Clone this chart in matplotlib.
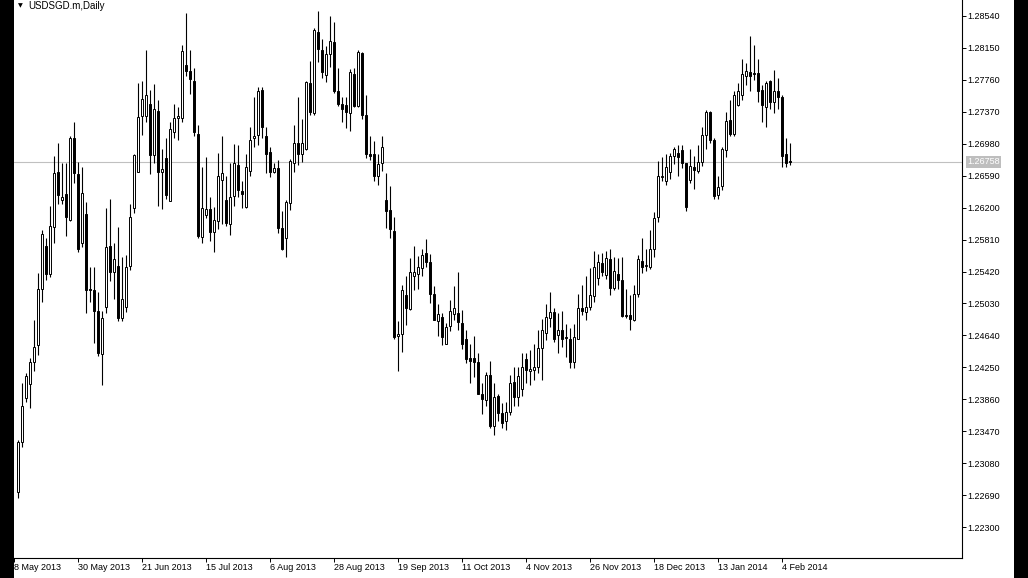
import matplotlib
matplotlib.use('Agg')
import matplotlib.pyplot as plt
from matplotlib.patches import Rectangle
import matplotlib.transforms as mtrans

plt.rcParams['font.family'] = ['Liberation Sans', 'DejaVu Sans']

# ---- Daily USDSGD.m candles (bars 1..194, bar 0 = 8 May 2013) ----
opens = [
    1.2273, 1.2334, 1.2388, 1.2405, 1.2431, 1.2452, 1.2521, 1.2573, 1.2539, 1.2596,
    1.2663, 1.2629, 1.2637, 1.2605, 1.2705, 1.2661, 1.2577, 1.2612, 1.2521, 1.2520,
    1.2494, 1.2441, 1.2499, 1.2573, 1.2541, 1.2549, 1.2485, 1.2499, 1.2549, 1.2619,
    1.2664, 1.2732, 1.2732, 1.2746, 1.2684, 1.2738, 1.2663, 1.2681, 1.2628, 1.2712,
    1.2729, 1.2729, 1.2794, 1.2787, 1.2775, 1.2710, 1.2584, 1.2611, 1.2618, 1.2590,
    1.2604, 1.2654, 1.2629, 1.2600, 1.2634, 1.2672, 1.2640, 1.2621, 1.2665, 1.2705,
    1.2709, 1.2764, 1.2707, 1.2688, 1.2663, 1.2668, 1.2595, 1.2583, 1.2626, 1.2675,
    1.2699, 1.2686, 1.2692, 1.2772, 1.2735, 1.2834, 1.2812, 1.2782, 1.2808, 1.2822,
    1.2763, 1.2747, 1.2745, 1.2736, 1.2783, 1.2744, 1.2809, 1.2733, 1.2686, 1.2685,
    1.2659, 1.2674, 1.2629, 1.2617, 1.2592, 1.2463, 1.2466, 1.2513, 1.2496, 1.2537,
    1.2539, 1.2546, 1.2565, 1.2553, 1.2515, 1.2482, 1.2486, 1.2454, 1.2475, 1.2490,
    1.2491, 1.2479, 1.2460, 1.2436, 1.2436, 1.2431, 1.2393, 1.2385, 1.2416, 1.2353,
    1.2390, 1.2369, 1.2360, 1.2371, 1.2407, 1.2389, 1.2398, 1.2435, 1.2421, 1.2422,
    1.2426, 1.2449, 1.2467, 1.2485, 1.2493, 1.2465, 1.2471, 1.2462, 1.2460, 1.2432,
    1.2460, 1.2497, 1.2492, 1.2499, 1.2512, 1.2534, 1.2552, 1.2538, 1.2557, 1.2522,
    1.2539, 1.2532, 1.2489, 1.2489, 1.2483, 1.2514, 1.2555, 1.2549, 1.2547, 1.2570,
    1.2609, 1.2657, 1.2653, 1.2664, 1.2683, 1.2687, 1.2690, 1.2674, 1.2654, 1.2670,
    1.2665, 1.2676, 1.2709, 1.2737, 1.2703, 1.2635, 1.2646, 1.2690, 1.2727, 1.2710,
    1.2745, 1.2758, 1.2781, 1.2785, 1.2784, 1.2784, 1.2764, 1.2743, 1.2774, 1.2749,
    1.2762, 1.2755, 1.2685, 1.2677,
]
highs = [
    1.2336, 1.2406, 1.2418, 1.2436, 1.2483, 1.2540, 1.2593, 1.2583, 1.2622, 1.2683,
    1.2699, 1.2675, 1.2674, 1.2707, 1.2725, 1.2676, 1.2670, 1.2627, 1.2548, 1.2548,
    1.2517, 1.2494, 1.2620, 1.2631, 1.2577, 1.2596, 1.2560, 1.2562, 1.2625, 1.2686,
    1.2772, 1.2774, 1.2812, 1.2764, 1.2771, 1.2751, 1.2692, 1.2705, 1.2725, 1.2746,
    1.2743, 1.2819, 1.2858, 1.2812, 1.2790, 1.2721, 1.2670, 1.2682, 1.2633, 1.2621,
    1.2687, 1.2708, 1.2658, 1.2674, 1.2698, 1.2697, 1.2652, 1.2686, 1.2718, 1.2755,
    1.2767, 1.2767, 1.2719, 1.2694, 1.2674, 1.2678, 1.2616, 1.2629, 1.2679, 1.2721,
    1.2755, 1.2728, 1.2775, 1.2799, 1.2839, 1.2860, 1.2826, 1.2817, 1.2854, 1.2847,
    1.2790, 1.2755, 1.2755, 1.2789, 1.2790, 1.2813, 1.2810, 1.2758, 1.2708, 1.2701,
    1.2686, 1.2707, 1.2662, 1.2646, 1.2608, 1.2481, 1.2526, 1.2536, 1.2558, 1.2573,
    1.2561, 1.2569, 1.2582, 1.2563, 1.2524, 1.2502, 1.2491, 1.2479, 1.2507, 1.2524,
    1.2541, 1.2495, 1.2471, 1.2454, 1.2463, 1.2443, 1.2406, 1.2419, 1.2433, 1.2406,
    1.2393, 1.2382, 1.2383, 1.2416, 1.2425, 1.2426, 1.2442, 1.2442, 1.2446, 1.2454,
    1.2470, 1.2484, 1.2502, 1.2517, 1.2498, 1.2491, 1.2494, 1.2478, 1.2473, 1.2478,
    1.2515, 1.2526, 1.2536, 1.2546, 1.2567, 1.2563, 1.2565, 1.2567, 1.2569, 1.2560,
    1.2558, 1.2560, 1.2521, 1.2513, 1.2526, 1.2562, 1.2583, 1.2570, 1.2593, 1.2615,
    1.2677, 1.2682, 1.2685, 1.2687, 1.2694, 1.2697, 1.2697, 1.2675, 1.2692, 1.2683,
    1.2697, 1.2718, 1.2739, 1.2738, 1.2705, 1.2659, 1.2694, 1.2737, 1.2751, 1.2762,
    1.2772, 1.2801, 1.2796, 1.2830, 1.2819, 1.2801, 1.2770, 1.2774, 1.2776, 1.2788,
    1.2778, 1.2758, 1.2705, 1.2699,
]
lows = [
    1.2265, 1.2328, 1.2383, 1.2375, 1.2420, 1.2440, 1.2505, 1.2532, 1.2535, 1.2577,
    1.2624, 1.2624, 1.2585, 1.2604, 1.2650, 1.2566, 1.2572, 1.2491, 1.2505, 1.2455,
    1.2439, 1.2404, 1.2491, 1.2530, 1.2509, 1.2481, 1.2482, 1.2493, 1.2544, 1.2614,
    1.2663, 1.2709, 1.2725, 1.2661, 1.2674, 1.2622, 1.2618, 1.2631, 1.2628, 1.2705,
    1.2703, 1.2725, 1.2781, 1.2759, 1.2707, 1.2583, 1.2577, 1.2607, 1.2579, 1.2566,
    1.2594, 1.2600, 1.2597, 1.2587, 1.2622, 1.2633, 1.2619, 1.2619, 1.2659, 1.2694,
    1.2696, 1.2705, 1.2662, 1.2657, 1.2662, 1.2589, 1.2568, 1.2560, 1.2617, 1.2664,
    1.2672, 1.2676, 1.2690, 1.2733, 1.2733, 1.2798, 1.2778, 1.2773, 1.2792, 1.2760,
    1.2744, 1.2725, 1.2717, 1.2714, 1.2743, 1.2743, 1.2728, 1.2680, 1.2678, 1.2652,
    1.2648, 1.2665, 1.2595, 1.2583, 1.2460, 1.2420, 1.2444, 1.2477, 1.2495, 1.2520,
    1.2521, 1.2536, 1.2548, 1.2504, 1.2483, 1.2463, 1.2452, 1.2454, 1.2469, 1.2483,
    1.2471, 1.2447, 1.2430, 1.2406, 1.2413, 1.2393, 1.2368, 1.2378, 1.2351, 1.2342,
    1.2360, 1.2351, 1.2349, 1.2367, 1.2378, 1.2378, 1.2390, 1.2406, 1.2404, 1.2410,
    1.2418, 1.2410, 1.2458, 1.2474, 1.2456, 1.2443, 1.2450, 1.2438, 1.2424, 1.2424,
    1.2459, 1.2489, 1.2483, 1.2495, 1.2505, 1.2526, 1.2536, 1.2533, 1.2513, 1.2519,
    1.2521, 1.2487, 1.2485, 1.2470, 1.2481, 1.2511, 1.2540, 1.2543, 1.2545, 1.2560,
    1.2602, 1.2652, 1.2648, 1.2655, 1.2673, 1.2659, 1.2668, 1.2616, 1.2650, 1.2643,
    1.2662, 1.2671, 1.2692, 1.2699, 1.2630, 1.2630, 1.2642, 1.2682, 1.2707, 1.2707,
    1.2744, 1.2751, 1.2770, 1.2762, 1.2776, 1.2749, 1.2724, 1.2718, 1.2740, 1.2735,
    1.2741, 1.2670, 1.2670, 1.2672,
]
closes = [
    1.2334, 1.2378, 1.2414, 1.2432, 1.2450, 1.2521, 1.2588, 1.2539, 1.2598, 1.2662,
    1.2635, 1.2633, 1.2609, 1.2705, 1.2662, 1.2570, 1.2638, 1.2519, 1.2519, 1.2494,
    1.2442, 1.2485, 1.2572, 1.2541, 1.2557, 1.2485, 1.2509, 1.2548, 1.2609, 1.2684,
    1.2731, 1.2753, 1.2758, 1.2684, 1.2741, 1.2663, 1.2667, 1.2635, 1.2716, 1.2729,
    1.2732, 1.2811, 1.2787, 1.2777, 1.2712, 1.2585, 1.2620, 1.2618, 1.2590, 1.2605,
    1.2659, 1.2662, 1.2601, 1.2633, 1.2675, 1.2642, 1.2637, 1.2669, 1.2703, 1.2708,
    1.2762, 1.2718, 1.2686, 1.2664, 1.2668, 1.2595, 1.2570, 1.2627, 1.2677, 1.2699,
    1.2686, 1.2699, 1.2773, 1.2737, 1.2837, 1.2814, 1.2785, 1.2808, 1.2823, 1.2763,
    1.2747, 1.2741, 1.2737, 1.2785, 1.2744, 1.2810, 1.2733, 1.2685, 1.2683, 1.2659,
    1.2673, 1.2694, 1.2616, 1.2594, 1.2462, 1.2466, 1.2519, 1.2497, 1.2541, 1.2541,
    1.2548, 1.2562, 1.2553, 1.2515, 1.2483, 1.2490, 1.2462, 1.2474, 1.2494, 1.2497,
    1.2480, 1.2454, 1.2435, 1.2433, 1.2431, 1.2393, 1.2386, 1.2416, 1.2353, 1.2389,
    1.2369, 1.2357, 1.2371, 1.2406, 1.2389, 1.2415, 1.2425, 1.2422, 1.2423, 1.2425,
    1.2449, 1.2470, 1.2486, 1.2493, 1.2460, 1.2471, 1.2460, 1.2461, 1.2432, 1.2462,
    1.2498, 1.2494, 1.2499, 1.2513, 1.2547, 1.2553, 1.2541, 1.2558, 1.2522, 1.2543,
    1.2532, 1.2488, 1.2488, 1.2484, 1.2515, 1.2557, 1.2547, 1.2550, 1.2570, 1.2607,
    1.2659, 1.2659, 1.2670, 1.2683, 1.2692, 1.2682, 1.2674, 1.2621, 1.2671, 1.2666,
    1.2676, 1.2709, 1.2737, 1.2703, 1.2634, 1.2645, 1.2692, 1.2726, 1.2710, 1.2758,
    1.2762, 1.2783, 1.2787, 1.2781, 1.2783, 1.2762, 1.2745, 1.2772, 1.2749, 1.2762,
    1.2755, 1.2683, 1.2675, 1.26758,
]
bar_index = list(range(1, len(opens) + 1))

date_tick_bars = [0, 16, 32, 48, 64, 80, 96, 112, 128, 144, 160, 176, 192]
date_labels = ['8 May 2013', '30 May 2013', '21 Jun 2013', '15 Jul 2013', '6 Aug 2013',
               '28 Aug 2013', '19 Sep 2013', '11 Oct 2013', '4 Nov 2013', '26 Nov 2013',
               '18 Dec 2013', '13 Jan 2014', '4 Feb 2014']
price_ticks = [1.22300, 1.22690, 1.23080, 1.23470, 1.23860, 1.24250, 1.24640, 1.25030,
               1.25420, 1.25810, 1.26200, 1.26590, 1.26980, 1.27370, 1.27760, 1.28150,
               1.28540]
bid_price = 1.26758
title = 'USDSGD.m,Daily'

W, H = 1028, 578
fig = plt.figure(figsize=(W / 100, H / 100), dpi=100)
fig.patch.set_facecolor('white')
ax = fig.add_axes([14 / W, 20 / H, (962 - 14) / W, 558 / H])
ax.set_facecolor('white')
ax.set_xlim(0, 237)
ax.set_ylim(1.21922, 1.28735)

for s in ['top', 'left']:
    ax.spines[s].set_visible(False)
for s in ['right', 'bottom']:
    ax.spines[s].set_color('black')
    ax.spines[s].set_linewidth(0.8)

# bid line
ax.axhline(bid_price, color='#C0C0C0', lw=0.8, zorder=1)

# candles
body_bottom = [min(o, c) for o, c in zip(opens, closes)]
body_height = [max(abs(c - o), 0.00002) for o, c in zip(opens, closes)]
faces = ['white' if c >= o else 'black' for o, c in zip(opens, closes)]
ax.vlines(bar_index, lows, highs, colors='black', lw=0.8, zorder=2)
ax.bar(bar_index, body_height, bottom=body_bottom, width=0.55, color=faces,
       edgecolor='black', linewidth=0.7, zorder=3)

# y axis on right
ax.yaxis.tick_right()
ax.set_yticks(price_ticks)
ax.set_yticklabels([f'{v:.5f}' for v in price_ticks])
ax.tick_params(axis='y', direction='out', length=3, width=0.7, pad=1,
               labelsize=6.5, colors='black')

# x axis dates
ax.set_xticks(date_tick_bars)
ax.set_xticklabels(date_labels)
ax.tick_params(axis='x', direction='out', length=3, width=0.7, pad=0.5,
               labelsize=6.5, colors='black')
for lab in ax.get_xticklabels():
    lab.set_horizontalalignment('left')

# current price box
tr = mtrans.blended_transform_factory(ax.transAxes, ax.transData)
ax.text(1 + 5 / 948, bid_price, f'{bid_price:.5f}', transform=tr, ha='left', va='center',
        fontsize=6.5, color='white', clip_on=False,
        bbox=dict(facecolor='#BEBEBE', edgecolor='none', pad=0.8))

# title
fig.text(18 / W, 1 - 6 / H, '\u25BC', fontsize=4.5, va='center', ha='left',
         family=['DejaVu Sans'])
fig.text(28 / W, 1 - 6 / H, title, fontsize=7, va='center', ha='left')

# window borders
fig.add_artist(Rectangle((0, 0), 14 / W, 1, transform=fig.transFigure,
                         facecolor='black', edgecolor='none', zorder=10))
fig.add_artist(Rectangle((1014 / W, 0), 14 / W, 1, transform=fig.transFigure,
                         facecolor='black', edgecolor='none', zorder=10))

fig.savefig('out.png', dpi=100)
